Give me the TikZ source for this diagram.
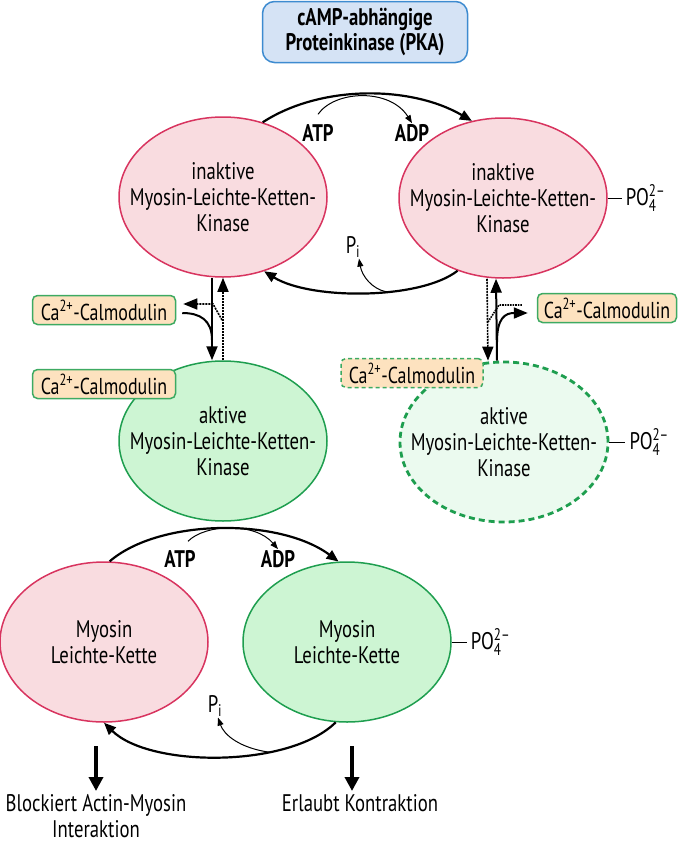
\documentclass[tikz,border=0pt]{standalone}
\usepackage{fontspec}
\setmainfont{PT Sans}[FakeStretch=0.78]
\usepackage{amsmath}
\usepackage{xcolor}
\definecolor{mlpink}{HTML}{F9DCE0}
\definecolor{mlred}{HTML}{D8345F}
\definecolor{mlgreen}{HTML}{CDF5D3}
\definecolor{mldkgreen}{HTML}{1E9E4F}
\definecolor{mlpale}{HTML}{EBFAEF}
\definecolor{mlblue}{HTML}{D5E3F5}
\definecolor{mldkblue}{HTML}{3D8BD0}
\definecolor{mlorange}{HTML}{FDE2BF}
\definecolor{mlcagreen}{HTML}{3DAA62}
\usetikzlibrary{arrows.meta,positioning,shapes.geometric}

\begin{document}
\begin{tikzpicture}[x=1pt, y=-1pt,
  font=\fontsize{24}{26}\selectfont,
  pka/.style={draw=mldkblue, fill=mlblue, rounded corners=12pt, line width=1.5pt,
              minimum width=205, minimum height=61, align=center,
              font=\fontsize{24}{25}\selectfont\bfseries},
  ell/.style={ellipse, minimum width=208, minimum height=160, inner sep=0pt, line width=1.5pt},
  inakt/.style={ell, draw=mlred, fill=mlpink},
  akt/.style={ell, draw=mldkgreen, fill=mlgreen},
  aktdash/.style={ell, draw=mldkgreen, fill=mlpale, line width=2.8pt, dash pattern=on 6pt off 4pt},
  ca/.style={draw=mlcagreen, fill=mlorange, rounded corners=5pt, line width=1.5pt,
             minimum width=143, minimum height=29, inner sep=1pt, font=\fontsize{23}{25}\selectfont},
  cadash/.style={ca, dash pattern=on 4pt off 3pt},
  po/.style={inner sep=1pt},
  nuc/.style={font=\fontsize{24}{26}\selectfont\bfseries, inner sep=1pt},
  arr/.style={-{Triangle[length=12pt, width=10pt]}, line width=2.2pt},
  sarr/.style={-{Triangle[length=8pt, width=6pt]}, line width=1pt},
  varr/.style={-{Triangle[length=14pt, width=11pt]}, line width=2pt},
  vdot/.style={varr, densely dotted, line width=1.6pt},
  bigarr/.style={-{Triangle[length=14pt, width=14pt]}, line width=4.5pt}
]
\useasboundingbox (0,0) rectangle (685,844);

\node[pka] (pka) at (365,32) {cAMP-abhängige\\Proteinkinase (PKA)};

% Kinase, inaktiv / aktiv
\node[inakt, label={[align=center]center:{inaktive\\Myosin-Leichte-Ketten-\\Kinase}}] (kinA) at (223,197) {};
\node[inakt, label={[align=center]center:{inaktive\\Myosin-Leichte-Ketten-\\Kinase}}] (kinB) at (503,198) {};
\node[akt, label={[align=center]center:{aktive\\Myosin-Leichte-Ketten-\\Kinase}}] (kinC) at (223,441) {};
\node[aktdash, label={[align=center]center:{aktive\\Myosin-Leichte-Ketten-\\Kinase}}] (kinD) at (504,442) {};

% leichte Kette
\node[inakt, label={[align=center]center:{Myosin\\Leichte-Kette}}] (mlcA) at (104,642) {};
\node[akt, label={[align=center]center:{Myosin\\Leichte-Kette}}] (mlcB) at (347,642) {};

\node[po, right=17pt of kinB] (poB) {PO$_{\text{4}}^{\text{2–}}$};
\node[po, right=19pt of kinD] (poD) {PO$_{\text{4}}^{\text{2–}}$};
\node[po, right=18pt of mlcB] (poM) {PO$_{\text{4}}^{\text{2–}}$};
\draw[line width=1pt, shorten >=3pt] (kinB) -- (poB);
\draw[line width=1pt, shorten >=3pt] (kinD) -- (poD);
\draw[line width=1pt, shorten >=3pt] (mlcB) -- (poM);

\node[ca] (caA) at (104,310) {Ca\textsuperscript{2+}-Calmodulin};
\node[ca] (caC) at (104,384) {Ca\textsuperscript{2+}-Calmodulin};
\node[ca, minimum width=139] (caB) at (607,308) {Ca\textsuperscript{2+}-Calmodulin};
\node[cadash, minimum width=142] (caD) at (412,373) {Ca\textsuperscript{2+}-Calmodulin};

\node[nuc] (atp1) at (318,133) {ATP};
\node[nuc] (adp1) at (412,133) {ADP};
\node[nuc] (atp2) at (180,559) {ATP};
\node[nuc] (adp2) at (278,559) {ADP};
\node[po] (pi1) at (353,247) {P$_{\text{i}}$};
\node[po] (pi2) at (215,706) {P$_{\text{i}}$};

\node[anchor=north, align=center] (blk) at (96,791) {Blockiert Actin-Myosin\\Interaktion};
\node[anchor=north, align=center] (erl) at (360,791) {Erlaubt Kontraktion};

% Zyklus oben
\draw[arr] (kinA.62) .. controls (320,85) and (410,85) .. (kinB.112);
\draw[sarr] ([yshift=9]atp1.north) .. controls (335,90) and (390,88) .. (adp1.north);
\draw[arr] (kinB.238) .. controls (420,300) and (310,300) .. (kinA.299) coordinate[pos=0.4] (piA);
\draw[sarr] (piA) .. controls (372,289) and (362,276) .. ([xshift=6]pi1.south);

% Calmodulin links
\coordinate (jA) at (212,340);
\coordinate (dA) at (222,320);
\coordinate (bA) at (213,304);
\draw[varr] ([xshift=-11]kinA.south) -- ([xshift=-11]kinC.north);
\draw[vdot] (kinC.north) -- (kinA.south);
\draw[line width=2pt] ([xshift=6,yshift=-3]caA.east) .. controls (200,313) and (212,320) .. (jA);
\draw[vdot] (dA) -- (bA) -- ([xshift=7,yshift=6]caA.east);

% Calmodulin rechts
\coordinate (jB) at (497,342);
\coordinate (dB) at (488,322);
\coordinate (bB) at (499,305);
\draw[varr] ([xshift=-7]kinD.north) -- ([xshift=-7]kinB.south);
\draw[vdot] ([xshift=-16]kinB.south) -- ([xshift=-16]kinD.north);
\draw[varr] (jB) .. controls (497,318) and (505,313) .. ([xshift=-9,yshift=-5]caB.west);
\draw[densely dotted, line width=1.6pt] (dB) -- (bB) -- ([xshift=-15,yshift=3]caB.west);

% Zyklus unten
\draw[arr] (mlcA.86) .. controls (160,518) and (280,518) .. (mlcB.96);
\draw[sarr] ([xshift=8,yshift=8]atp2.north) .. controls (205,524) and (255,522) .. (adp2.north);
\draw[arr] (mlcB.262) .. controls (290,768) and (150,768) .. (mlcA.270) coordinate[pos=0.32] (piB);
\draw[sarr] (piB) .. controls (240,748) and (224,735) .. ([xshift=3]pi2.south);

\coordinate (oA) at (96,746);
\coordinate (oB) at (352,746);
\draw[bigarr] (oA) -- (blk.north);
\draw[bigarr] (oB) -- (oB |- erl.north);
\end{tikzpicture}
\end{document}
